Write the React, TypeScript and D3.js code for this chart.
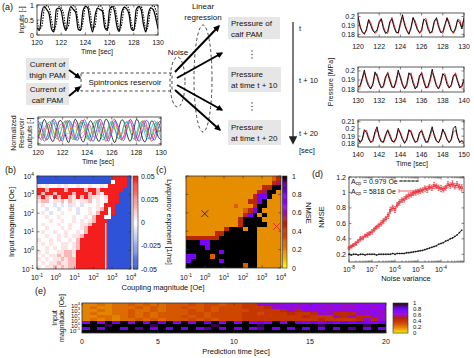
import React from "react";
import * as d3 from "d3";

const FONT = "'Liberation Sans', Arial, Helvetica, sans-serif";

/* ---------------- (a) input signals ---------------- */
const inputT0 = 120;
const inputDt = 0.2;
const inputSolid = [0.25,0.15,0.75,0.95,0.85,0.7,0.2,0.1,0.85,0.9,0.8,0.35,0.15,0.7,0.95,0.85,0.75,0.2,0.15,0.8,0.95,0.9,0.4,0.1,0.65,0.9,0.85,0.8,0.25,0.15,0.85,0.95,0.8,0.3,0.12,0.75,0.92,0.88,0.7,0.2,0.15,0.85,0.95,0.85,0.35,0.1,0.7,0.9,0.85,0.6,0.2];
const inputDotted = [0.5,0.2,0.3,0.85,0.98,0.9,0.5,0.15,0.4,0.95,0.9,0.7,0.2,0.3,0.85,0.98,0.9,0.45,0.15,0.45,0.95,0.95,0.75,0.2,0.3,0.9,0.98,0.9,0.5,0.15,0.5,0.95,0.95,0.6,0.15,0.35,0.9,0.98,0.85,0.4,0.15,0.5,0.95,0.95,0.65,0.15,0.35,0.9,0.98,0.85,0.45];
const timeTicksA = [120, 122, 124, 126, 128, 130];

/* ---------------- (a) reservoir outputs ---------------- */
const resT0 = 120;
const resDt = 0.25;
const resColors = ["#000000", "#e8202a", "#23a832", "#2040e0", "#e040d8", "#20b8e0", "#b8c020"];
const resSeries = [
  [0.2,0.6,0.95,0.7,0.25,0.1,0.55,0.9,0.8,0.3,0.05,0.5,0.95,0.75,0.2,0.1,0.6,0.9,0.7,0.25,0.1,0.55,0.95,0.8,0.3,0.05,0.45,0.9,0.85,0.35,0.1,0.5,0.95,0.75,0.2,0.1,0.6,0.9,0.7,0.3,0.15],
  [0.8,0.4,0.1,0.3,0.8,0.9,0.45,0.1,0.35,0.85,0.85,0.4,0.15,0.4,0.9,0.8,0.35,0.1,0.4,0.85,0.9,0.5,0.1,0.3,0.8,0.95,0.5,0.15,0.35,0.8,0.9,0.45,0.1,0.4,0.85,0.85,0.4,0.1,0.35,0.8,0.9],
  [0.4,0.15,0.3,0.75,0.85,0.5,0.2,0.3,0.7,0.9,0.55,0.2,0.25,0.7,0.85,0.6,0.2,0.3,0.75,0.9,0.5,0.15,0.3,0.7,0.85,0.55,0.2,0.3,0.75,0.85,0.5,0.2,0.25,0.7,0.9,0.55,0.2,0.3,0.75,0.85,0.5],
  [0.9,0.7,0.3,0.15,0.5,0.95,0.8,0.3,0.1,0.55,0.9,0.75,0.25,0.15,0.6,0.95,0.7,0.3,0.1,0.5,0.95,0.8,0.35,0.1,0.55,0.9,0.7,0.25,0.15,0.6,0.95,0.75,0.3,0.1,0.5,0.9,0.8,0.3,0.15,0.55,0.9],
  [0.3,0.2,0.55,0.8,0.6,0.25,0.3,0.7,0.75,0.4,0.2,0.6,0.85,0.55,0.25,0.35,0.75,0.7,0.3,0.25,0.65,0.8,0.5,0.2,0.4,0.8,0.7,0.3,0.25,0.6,0.85,0.55,0.2,0.35,0.75,0.7,0.35,0.2,0.6,0.8,0.5],
  [0.6,0.85,0.5,0.2,0.35,0.8,0.75,0.35,0.2,0.6,0.9,0.6,0.2,0.3,0.75,0.85,0.45,0.15,0.45,0.85,0.7,0.3,0.2,0.6,0.9,0.6,0.25,0.3,0.7,0.85,0.5,0.2,0.4,0.8,0.75,0.3,0.2,0.65,0.9,0.55,0.25],
  [0.5,0.35,0.45,0.65,0.6,0.4,0.45,0.6,0.65,0.45,0.4,0.55,0.7,0.5,0.4,0.5,0.65,0.6,0.4,0.45,0.6,0.65,0.45,0.4,0.55,0.7,0.5,0.35,0.5,0.65,0.6,0.4,0.45,0.6,0.7,0.5,0.4,0.5,0.65,0.55,0.45],
];

/* ---------------- (a) pressure predictions ---------------- */
const pressStarts = [120, 130, 140];
const pressDt = 0.2;
const pressTarget = [
  [0.199,0.190,0.182,0.181,0.184,0.197,0.193,0.186,0.181,0.183,0.195,0.198,0.189,0.182,0.181,0.192,0.199,0.191,0.183,0.181,0.190,0.199,0.193,0.185,0.181,0.186,0.198,0.195,0.187,0.181,0.183,0.196,0.198,0.189,0.182,0.182,0.193,0.199,0.191,0.183,0.181,0.189,0.199,0.194,0.185,0.181,0.185,0.197,0.196,0.188,0.199],
  [0.183,0.182,0.190,0.198,0.192,0.185,0.181,0.184,0.196,0.197,0.188,0.182,0.182,0.191,0.199,0.192,0.184,0.181,0.187,0.198,0.195,0.186,0.181,0.183,0.195,0.198,0.189,0.182,0.182,0.192,0.199,0.191,0.183,0.181,0.188,0.198,0.194,0.185,0.181,0.184,0.196,0.197,0.188,0.182,0.183,0.193,0.198,0.190,0.183,0.182,0.189],
  [0.186,0.182,0.184,0.196,0.198,0.189,0.182,0.182,0.193,0.199,0.191,0.183,0.181,0.189,0.199,0.193,0.185,0.181,0.186,0.198,0.196,0.187,0.181,0.184,0.196,0.198,0.189,0.182,0.182,0.193,0.199,0.191,0.183,0.181,0.190,0.199,0.193,0.184,0.181,0.186,0.198,0.195,0.186,0.181,0.184,0.196,0.198,0.189,0.182,0.183,0.180],
];
const pressPred = [
  [0.200,0.188,0.183,0.180,0.186,0.196,0.190,0.184,0.182,0.185,0.193,0.197,0.186,0.181,0.183,0.194,0.197,0.188,0.182,0.182,0.193,0.202,0.190,0.184,0.180,0.188,0.199,0.192,0.185,0.182,0.185,0.197,0.195,0.186,0.181,0.184,0.195,0.198,0.188,0.182,0.183,0.191,0.198,0.191,0.184,0.182,0.187,0.196,0.193,0.186,0.198],
  [0.182,0.184,0.192,0.201,0.189,0.183,0.180,0.186,0.199,0.194,0.186,0.181,0.184,0.194,0.197,0.189,0.182,0.182,0.190,0.201,0.192,0.184,0.180,0.186,0.198,0.195,0.186,0.180,0.184,0.195,0.197,0.188,0.181,0.183,0.191,0.202,0.191,0.183,0.180,0.187,0.197,0.194,0.185,0.181,0.185,0.195,0.196,0.188,0.181,0.184,0.191],
  [0.187,0.181,0.186,0.199,0.195,0.186,0.181,0.184,0.196,0.203,0.188,0.182,0.182,0.192,0.198,0.190,0.183,0.182,0.188,0.201,0.193,0.185,0.180,0.186,0.199,0.195,0.187,0.181,0.184,0.195,0.197,0.188,0.181,0.183,0.193,0.203,0.190,0.183,0.181,0.188,0.200,0.193,0.185,0.181,0.186,0.201,0.204,0.188,0.181,0.184,0.181],
];
const pressYTicks = [[0.18, 0.19, 0.2], [0.18, 0.19, 0.2], [0.18, 0.19, 0.2, 0.21]];
const pressYDomains = [[0.177, 0.2039], [0.1767, 0.2044], [0.1749, 0.2124]];

/* ---------------- (b) Lyapunov exponent map ---------------- */
const lyapunovGrid = [
  "BBBBBBBBBBBBBBBBBBBRRRRB",
  "BBBBBBBBBBBBBBBBBBBWRRRB",
  "pWpWWpWpWWpWWpWWpWRRRRRB",
  "RRlRRRRlRRRRlRRlRRRRRRBB",
  "RlRRlRRRRlRRRlRlpRRRRBBB",
  "lRlpRlRRlpRlRlppWpRRRBBB",
  "pllWpplWlpWpplWpWpRRRBBB",
  "WpWWcWcWcpWcWWWpWRRRBBBB",
  "WWcWWcWWpWcWWpWplRWRBBBB",
  "WpWcWWpWWWcWWpWlRRWRBBBB",
  "WWpWWpWWWpWWpWlRRWWBBBBB",
  "WWWpWWpWWpWpWplRRRBBBBBB",
  "WpWWWpWWpWWpplRRRRBBBBBB",
  "WWpWWWpWpWWplRRRRRBBBBBB",
  "WpWWpWWpWWpWlRRRRRBBBBBB",
  "WWpWWpWpWpplRRRRRRBBBBBB",
  "pWWpWpWWpWlRRRRRRRBBBBBB",
  "WpWpWWppWplRRRRRRRBBBBBB",
  "WWpWpWppWplRRRRRRRBBBBBB",
  "pWpWWppllpRRRRRRRRBBBBBB",
  "WpWpplpllpRRRRRRRRBBBBBB",
  "pWpWpplpllRRRRRRRRBBBBBB",
  "WpWpplppllRRRRRRRRBBBBBB",
  "pWpplplpllRRRRRRRRBBBBBB",
];
const lyapunovCodes: Record<string, number> = { B: -0.05, b: -0.03, c: -0.008, W: 0, p: 0.006, l: 0.016, R: 0.05 };
const lyapunovBoundary = { coupling: 450, inputFrom: 0.1, inputTo: 30 };
const lyapunovTicks = [0.05, 0.025, 0, -0.025, -0.05];

/* ---------------- (c) NMSE map ---------------- */
const nmseGrid = [
  "ooooooooooooooooooqr",
  "oooooooooooooooooorm",
  "oooooooooooooooorrkk",
  "ooooooooooooooormkko",
  "oooooooooooooorbbkoo",
  "ooooooooooooorrbkooo",
  "ooooooooooqooorkkooo",
  "ooooooooooooqrbkoooo",
  "oooooooooooorbkokooo",
  "ooooooooooorkkkkoooo",
  "ooooooooooorkkkkkooo",
  "oooooooorkkkokkooooo",
  "oooooorrkkkkkkkooooo",
  "rrrrrrrkkkkkkkkooooo",
  "kkkbbkkkkkkkkkkooooo",
  "kkkkbkkkkkkkkkkooooo",
  "kkkkkkkbkkkkkkkooooo",
  "bbkkkqkkkkkkkkkooooo",
  "bkkkkkkbkkkkkkkooooo",
  "kkkkkkkkkkkkqkkooooo",
];
const nmseCodes: Record<string, number> = { o: 0.18, q: 0.28, r: 0.46, m: 0.56, b: 0.78, k: 1.0 };
const crossBlack = { coupling: 0.979, input: 90 };
const crossRed = { coupling: 5818, input: 18 };
const logExps = [-1, 0, 1, 2, 3, 4];
const nmseTicks = [1, 0.8, 0.6, 0.4, 0.2, 0];

/* ---------------- (d) NMSE vs noise ---------------- */
const noiseExpStart = -8;
const noiseExpStep = 0.1;
const nmseLowCoupling = [0.20,0.19,0.20,0.20,0.19,0.20,0.20,0.19,0.20,0.20,0.20,0.20,0.19,0.20,0.20,0.20,0.20,0.20,0.20,0.21,0.20,0.21,0.21,0.21,0.21,0.22,0.22,0.225,0.23,0.235,0.24,0.245,0.25,0.26,0.27,0.28,0.29,0.30,0.31,0.33,0.34,0.35,0.37,0.38,0.40,0.41,0.43,0.45,0.48,0.51];
const nmseHighCoupling = [0.28,0.30,0.32,0.34,0.37,0.40,0.41,0.44,0.45,0.47,0.49,0.52,0.55,0.57,0.60,0.63,0.66,0.70,0.77,0.80,0.78,0.84,0.87,0.90,0.91,0.94,0.96,0.97,0.99,1.00,1.01,1.02,1.03,1.05,1.04,1.07,1.06,1.09,1.08,1.06,1.05,1.04,1.06,1.10,1.09,1.11,1.08,1.10,1.07,1.06];
const nmseHighErr = [0.02,0.02,0.02,0.025,0.02,0.03,0.025,0.02,0.03,0.025,0.03,0.03,0.025,0.03,0.035,0.03,0.03,0.035,0.04,0.035,0.04,0.03,0.035,0.03,0.035,0.03,0.035,0.03,0.03,0.035,0.03,0.035,0.03,0.035,0.04,0.03,0.035,0.04,0.03,0.035,0.04,0.035,0.03,0.04,0.035,0.04,0.035,0.04,0.035,0.04];
const dYTicks = [0.2, 0.4, 0.6, 0.8, 1, 1.2];
const dXExps = [-8, -7, -6, -5, -4];

/* ---------------- (e) NMSE vs prediction time ---------------- */
const predGrid = [
  "eefef" + "fgfgffg" + "gghghhgh" + "hiin" + "onnonnoononnonoo",
  "efeef" + "ffgfgfg" + "ghgghghh" + "hiii" + "jnonnoonnonnoono",
  "eefef" + "fgffgfg" + "gghghghh" + "hhii" + "iijnjnnonnnonnon",
  "efeef" + "fgfgfgg" + "gghhghhh" + "hiih" + "iiijiij" + "nnjjjnnon",
  "eeffe" + "fgfgfgg" + "ghghghhh" + "hiii" + "iiiiijiii" + "njnjjnn",
  "efefe" + "ffgfgfg" + "gghghghh" + "hiii" + "iiiiiiijiiii" + "jnjn",
  "pupuqupupu" + "qupupuqupu" + "pupqpupuqp" + "qpqpqpqqpq",
  "uuutuuuuut" + "uuuuuuutuu" + "uuutuuuuuu" + "utuuuuutuu",
  "ququuqusuq" + "uququqsuqu" + "quqsuququq" + "uququsuquq",
  "uuuuuuuuuu" + "uuuuuuuuuu" + "uuuuuuuuuu" + "uuuuuuuuuu",
];
const predTimeTicks = [0, 5, 10, 15, 20];
const predCbarTicks = [1, 0.8, 0.6, 0.4, 0.2, 0];

/* ---------------- helpers ---------------- */
function gnuColor(v: number) {
  const x = 1 - Math.max(0, Math.min(1, v));
  const r = Math.sqrt(x), g = x * x * x, b = Math.max(0, Math.sin(2 * Math.PI * x));
  return d3.rgb(Math.round(r * 255), Math.round(g * 255), Math.round(b * 255)).formatHex();
}
const lyapColor = d3.scaleLinear<string>().domain([-0.05, 0, 0.05]).range(["#2e52d8", "#ffffff", "#f41e1e"]).clamp(true);
const charVal = (c: string) => (c.charCodeAt(0) - 97) * 0.05;

const AX = "#333";

function Frame({ x0, y0, x1, y1 }: any) {
  return <rect x={x0} y={y0} width={x1 - x0} height={y1 - y0} fill="none" stroke={AX} strokeWidth={0.8} />;
}
function XTicks({ xs, y0, y1, len = 2.5, mirror = true }: any) {
  return (
    <g stroke={AX} strokeWidth={0.6}>
      {xs.map((x: number, i: number) => (
        <g key={i}>
          <line x1={x} x2={x} y1={y1} y2={y1 - len} />
          {mirror && <line x1={x} x2={x} y1={y0} y2={y0 + len} />}
        </g>
      ))}
    </g>
  );
}
function YTicks({ ys, x0, x1, len = 2.5, mirror = true }: any) {
  return (
    <g stroke={AX} strokeWidth={0.6}>
      {ys.map((y: number, i: number) => (
        <g key={i}>
          <line x1={x0} x2={x0 + len} y1={y} y2={y} />
          {mirror && <line x1={x1} x2={x1 - len} y1={y} y2={y} />}
        </g>
      ))}
    </g>
  );
}
function P10({ x, y, e, anchor = "middle", fs = 7 }: any) {
  return (
    <text x={x} y={y} textAnchor={anchor} fontSize={fs}>
      10<tspan dy={-fs * 0.4} fontSize={fs * 0.7}>{e}</tspan>
    </text>
  );
}
function Box({ x, y, w, h, lines, tx, fs = 8 }: any) {
  return (
    <g>
      <rect x={x} y={y} width={w} height={h} fill="#e6e6e6" />
      {lines.map((l: string, i: number) => (
        <text key={i} x={tx} y={y + h / 2 + (i - (lines.length - 1) / 2) * 11 + 3} fontSize={fs} textAnchor={tx === x + w / 2 ? "middle" : "start"}>{l}</text>
      ))}
    </g>
  );
}

function Heat({ grid, x0, x1, y0, y1, color }: any) {
  const nR = grid.length;
  const nC = d3.max(grid, (r: string[]) => r.length) as number;
  const cx = d3.scaleBand<number>().domain(d3.range(nC)).range([x0, x1]);
  const cy = d3.scaleBand<number>().domain(d3.range(nR)).range([y0, y1]);
  return (
    <g shapeRendering="crispEdges">
      {grid.map((row: string[], r: number) =>
        row.map((c: string, k: number) => (
          <rect key={r + "-" + k} x={cx(k)} y={cy(r)} width={cx.bandwidth() + 0.4} height={cy.bandwidth() + 0.4} fill={color(c)} />
        ))
      )}
    </g>
  );
}

function Colorbar({ x0, x1, y0, y1, color, vmin, vmax }: any) {
  const s = d3.scaleLinear().domain([vmin, vmax]).range([y1, y0]);
  const steps = d3.range(0, 100);
  const hh = (y1 - y0) / 100;
  return (
    <g>
      {steps.map((i) => {
        const v = vmin + ((i + 0.5) / 100) * (vmax - vmin);
        return <rect key={i} x={x0} y={s(v) - hh / 2} width={x1 - x0} height={hh + 0.4} fill={color(v)} />;
      })}
      <rect x={x0} y={y0} width={x1 - x0} height={y1 - y0} fill="none" stroke={AX} strokeWidth={0.6} />
    </g>
  );
}

export default function App() {
  /* ---- (a) inputs ---- */
  const aX = d3.scaleLinear().domain([120, 130]).range([37, 158]);
  const aY = d3.scaleLinear().domain([0, 1]).range([35, 5]);
  const inLine = d3.line<number>().x((_, i) => aX(inputT0 + i * inputDt)).y((d) => aY(d)).curve(d3.curveMonotoneX);

  /* ---- reservoir ---- */
  const rX = d3.scaleLinear().domain([120, 130]).range([38, 161]);
  const rY = d3.scaleLinear().domain([-0.05, 1.05]).range([145, 117]);
  const resLine = d3.line<number>().x((_, i) => rX(resT0 + i * resDt)).y((d) => rY(d)).curve(d3.curveCardinal);

  /* ---- pressure panels ---- */
  const pFrames = [[13, 37], [67, 92], [120, 147]];
  const pLabelY = [48.5, 102.5, 156.5];

  /* ---- (b) ---- */
  const bX = d3.scaleLog().domain([0.1, 1e4]).range([37, 131]);
  const bY = d3.scaleLog().domain([0.1, 1e4]).range([269, 176]);
  /* ---- (c) ---- */
  const cX = d3.scaleLog().domain([0.1, 1e4]).range([186, 281]);
  const cY = d3.scaleLog().domain([0.1, 1e4]).range([268, 176]);
  /* ---- (d) ---- */
  const dX = d3.scaleLog().domain([1e-8, 1e-3]).range([349, 464]);
  const dY = d3.scaleLinear().domain([0.1, 1.2]).range([262, 177]);
  const noiseAt = (i: number) => Math.pow(10, noiseExpStart + i * noiseExpStep);
  const dLine = d3.line<number>().x((_, i) => dX(noiseAt(i))).y((d) => dY(d));
  const minorD: number[] = [];
  dXExps.forEach((e) => { for (let m = 2; m <= 9; m++) minorD.push(m * Math.pow(10, e)); });
  /* ---- (e) ---- */
  const eX = d3.scaleLinear().domain([0, 20]).range([82, 386]);
  const eRows = d3.scaleBand<number>().domain(d3.range(6)).range([303, 333]);

  const cross = (x: number, y: number, col: string, k: string) => (
    <g key={k} stroke={col} strokeWidth={0.9}>
      <line x1={x - 3.5} x2={x + 3.5} y1={y - 3.5} y2={y + 3.5} />
      <line x1={x - 3.5} x2={x + 3.5} y1={y + 3.5} y2={y - 3.5} />
    </g>
  );

  return (
    <svg width={474} height={358} style={{ position: "absolute", left: 0, top: 0, background: "#fff" }} fontFamily={FONT} fill="#111">
      <defs>
        <marker id="arr" viewBox="0 0 10 10" refX="8" refY="5" markerWidth="3.2" markerHeight="3.2" orient="auto">
          <path d="M0,0 L10,5 L0,10 z" fill="#000" />
        </marker>
        <marker id="arrT" viewBox="0 0 10 10" refX="8" refY="5" markerWidth="7" markerHeight="7" orient="auto">
          <path d="M0,0 L10,5 L0,10 z" fill="#222" />
        </marker>
        <clipPath id="clipIn"><rect x={37} y={5} width={121} height={30} /></clipPath>
        <clipPath id="clipRes"><rect x={38} y={117} width={123} height={28} /></clipPath>
        {pFrames.map((f, i) => (
          <clipPath key={i} id={"clipP" + i}><rect x={358} y={f[0]} width={106} height={f[1] - f[0]} /></clipPath>
        ))}
      </defs>

      {/* ============ (a) ============ */}
      <text x={2} y={10} fontSize={9}>(a)</text>
      <g clipPath="url(#clipIn)">
        <path d={inLine(inputDotted) || ""} fill="none" stroke="#000" strokeWidth={1.1} strokeDasharray="1.4,1.2" />
        <path d={inLine(inputSolid) || ""} fill="none" stroke="#000" strokeWidth={1.2} />
      </g>
      <Frame x0={37} y0={5} x1={158} y1={35} />
      <XTicks xs={timeTicksA.map((t) => aX(t))} y0={5} y1={35} />
      <YTicks ys={[0, 0.5, 1].map((v) => aY(v))} x0={37} x1={158} />
      {[0, 0.5, 1].map((v) => (
        <text key={v} x={34} y={aY(v) + 2.5} fontSize={7} textAnchor="end">{v}</text>
      ))}
      {timeTicksA.map((t) => (
        <text key={t} x={aX(t)} y={45} fontSize={7} textAnchor="middle">{t}</text>
      ))}
      <text x={97} y={54} fontSize={7} textAnchor="middle">Time [sec]</text>
      <text transform="translate(24,20) rotate(-90)" fontSize={7} textAnchor="middle">Inputs [-]</text>

      <Box x={26} y={58} w={43} h={22} lines={["Current of", "thigh PAM"]} tx={47.5} />
      <Box x={26} y={83} w={43} h={22} lines={["Current of", "calf PAM"]} tx={47.5} />
      <line x1={69} y1={70} x2={80} y2={78} stroke="#000" strokeWidth={2} markerEnd="url(#arr)" />
      <line x1={69} y1={96} x2={80} y2={87} stroke="#000" strokeWidth={2} markerEnd="url(#arr)" />
      <rect x={81} y={73} width={91} height={18} fill="none" stroke="#333" strokeWidth={0.9} strokeDasharray="3,2.5" />
      <text x={125} y={85} fontSize={8} textAnchor="middle">Spintronics reservoir</text>

      <g clipPath="url(#clipRes)">
        {resSeries.map((s, i) => (
          <path key={i} d={resLine(s) || ""} fill="none" stroke={resColors[i]} strokeWidth={0.8} />
        ))}
      </g>
      <Frame x0={38} y0={117} x1={161} y1={145} />
      <XTicks xs={timeTicksA.map((t) => rX(t))} y0={117} y1={145} />
      <YTicks ys={[0, 0.5, 1].map((v) => rY(v))} x0={38} x1={161} />
      {timeTicksA.map((t) => (
        <text key={t} x={rX(t)} y={154.5} fontSize={7} textAnchor="middle">{t}</text>
      ))}
      <text x={98} y={164} fontSize={7} textAnchor="middle">Time [sec]</text>
      <g fontSize={7} textAnchor="middle">
        <text transform="translate(16,133) rotate(-90)">Normalized</text>
        <text transform="translate(24,133) rotate(-90)">Reservoir</text>
        <text transform="translate(32,133) rotate(-90)">outputs [-]</text>
      </g>

      <text x={178} y={55} fontSize={8} textAnchor="middle">Noise</text>
      <ellipse cx={177.5} cy={82} rx={7.5} ry={25} fill="none" stroke="#333" strokeWidth={0.9} strokeDasharray="3,2.5" />
      <text x={203} y={9} fontSize={8} textAnchor="middle">Linear</text>
      <text x={203} y={19.5} fontSize={8} textAnchor="middle">regression</text>
      <ellipse cx={203} cy={78.5} rx={9} ry={53.5} fill="none" stroke="#333" strokeWidth={0.9} strokeDasharray="3,2.5" />
      <g stroke="#000" strokeWidth={2}>
        <line x1={175} y1={72} x2={219} y2={26} markerEnd="url(#arr)" />
        <line x1={177} y1={78} x2={222} y2={53} markerEnd="url(#arr)" />
        <line x1={177} y1={85} x2={222} y2={110} markerEnd="url(#arr)" />
        <line x1={175} y1={90} x2={220} y2={130} markerEnd="url(#arr)" />
      </g>

      <Box x={228} y={17} w={52} h={22} lines={["Pressure of", "calf PAM"]} tx={231} />
      <Box x={228} y={67} w={53} h={25} lines={["Pressure", "at time t + 10"]} tx={231} />
      <Box x={228} y={120} w={53} h={25} lines={["Pressure", "at time t + 20"]} tx={231} />
      {[51, 54.5, 58, 103, 106.5, 110].map((y, i) => (
        <circle key={i} cx={252} cy={y} r={0.7} fill="#333" />
      ))}

      <line x1={293} y1={22} x2={293} y2={143} stroke="#222" strokeWidth={1.2} markerEnd="url(#arrT)" />
      <g fontSize={7.5}>
        <text x={299} y={31}>t</text>
        <text x={299} y={83}>t + 10</text>
        <text x={299} y={136}>t + 20</text>
        <text x={299} y={153}>[sec]</text>
      </g>

      {pFrames.map((f, i) => {
        const px = d3.scaleLinear().domain([pressStarts[i], pressStarts[i] + 10]).range([358, 464]);
        const py = d3.scaleLinear().domain(pressYDomains[i]).range([f[1], f[0]]);
        const ln = d3.line<number>().x((_, k) => px(pressStarts[i] + k * pressDt)).y((d) => py(d));
        const xt = d3.range(pressStarts[i], pressStarts[i] + 10.01, 2);
        return (
          <g key={i}>
            <g clipPath={`url(#clipP${i})`}>
              <path d={ln(pressTarget[i]) || ""} fill="none" stroke="#e8202a" strokeWidth={0.9} />
              <path d={ln(pressPred[i]) || ""} fill="none" stroke="#000" strokeWidth={0.9} />
            </g>
            <Frame x0={358} y0={f[0]} x1={464} y1={f[1]} />
            <XTicks xs={xt.map((t) => px(t))} y0={f[0]} y1={f[1]} />
            <YTicks ys={pressYTicks[i].map((v) => py(v))} x0={358} x1={464} />
            {pressYTicks[i].map((v) => (
              <text key={v} x={355} y={py(v) + 2.5} fontSize={7} textAnchor="end">{v}</text>
            ))}
            {xt.map((t) => (
              <text key={t} x={px(t)} y={pLabelY[i]} fontSize={7} textAnchor="middle">{t}</text>
            ))}
          </g>
        );
      })}
      <text x={412} y={166} fontSize={7} textAnchor="middle">Time [sec]</text>
      <text transform="translate(333,82) rotate(-90)" fontSize={7} textAnchor="middle">Pressure [MPa]</text>

      {/* ============ (b) ============ */}
      <text x={5} y={173} fontSize={9}>(b)</text>
      <Heat grid={lyapunovGrid.map((r) => r.split(""))} x0={37} x1={131} y0={176} y1={269} color={(c: string) => lyapColor(lyapunovCodes[c])} />
      <line x1={bX(lyapunovBoundary.coupling)} x2={bX(lyapunovBoundary.coupling)} y1={bY(lyapunovBoundary.inputFrom)} y2={bY(lyapunovBoundary.inputTo)} stroke="#fff" strokeWidth={1.2} />
      <Frame x0={37} y0={176} x1={131} y1={269} />
      <XTicks xs={logExps.map((e) => bX(Math.pow(10, e)))} y0={176} y1={269} />
      <YTicks ys={logExps.map((e) => bY(Math.pow(10, e)))} x0={37} x1={131} />
      {logExps.map((e) => <P10 key={"bx" + e} x={bX(Math.pow(10, e))} y={280} e={e} />)}
      {logExps.map((e) => <P10 key={"by" + e} x={34} y={bY(Math.pow(10, e)) + 2.5} e={e} anchor="end" />)}
      <text transform="translate(14,222) rotate(-90)" fontSize={7.5} textAnchor="middle">Input magnitude [Oe]</text>
      <Colorbar x0={133} x1={138} y0={176} y1={269} color={lyapColor} vmin={-0.05} vmax={0.05} />
      {lyapunovTicks.map((v) => (
        <text key={v} x={141} y={176 + ((0.05 - v) / 0.1) * 93 + 2.5} fontSize={7}>{v}</text>
      ))}
      <text transform="translate(167,222) rotate(90)" fontSize={7.5} textAnchor="middle">Lyapunov exponent [1/ns]</text>
      <text x={163} y={290} fontSize={7.5} textAnchor="middle">Coupling magnitude [Oe]</text>

      {/* ============ (c) ============ */}
      <text x={156} y={173} fontSize={9}>(c)</text>
      <Heat grid={nmseGrid.map((r) => r.split(""))} x0={186} x1={281} y0={176} y1={268} color={(c: string) => gnuColor(nmseCodes[c])} />
      {cross(cX(crossBlack.coupling), cY(crossBlack.input), "#222", "cb")}
      {cross(cX(crossRed.coupling), cY(crossRed.input), "#e8202a", "cr")}
      <Frame x0={186} y0={176} x1={281} y1={268} />
      <XTicks xs={logExps.map((e) => cX(Math.pow(10, e)))} y0={176} y1={268} />
      <YTicks ys={logExps.map((e) => cY(Math.pow(10, e)))} x0={186} x1={281} />
      {logExps.map((e) => <P10 key={"cx" + e} x={cX(Math.pow(10, e))} y={280} e={e} />)}
      <Colorbar x0={282.5} x1={287} y0={176} y1={268} color={gnuColor} vmin={0} vmax={1} />
      {nmseTicks.map((v) => (
        <text key={v} x={292} y={268 - v * 92 + 2.5} fontSize={7}>{v}</text>
      ))}
      <text transform="translate(306,213) rotate(90)" fontSize={7.5} textAnchor="middle">NMSE</text>

      {/* ============ (d) ============ */}
      <text x={312} y={177} fontSize={9}>(d)</text>
      <Frame x0={349} y0={177} x1={464} y1={262} />
      <XTicks xs={dXExps.map((e) => dX(Math.pow(10, e)))} y0={177} y1={262} />
      <XTicks xs={minorD.map((v) => dX(v))} y0={177} y1={262} len={1.5} />
      <YTicks ys={dYTicks.map((v) => dY(v))} x0={349} x1={464} />
      {dYTicks.map((v) => (
        <text key={v} x={346} y={dY(v) + 2.5} fontSize={7} textAnchor="end">{v}</text>
      ))}
      {dXExps.map((e) => <P10 key={"dx" + e} x={dX(Math.pow(10, e))} y={272} e={e} />)}
      <text x={406} y={281} fontSize={7.5} textAnchor="middle">Noise variance</text>
      <text transform="translate(324,217) rotate(-90)" fontSize={7.5} textAnchor="middle">NMSE</text>
      <path d={dLine(nmseLowCoupling) || ""} fill="none" stroke="#000" strokeWidth={0.7} />
      {nmseLowCoupling.map((v, i) => (
        <g key={"lb" + i} stroke="#000" strokeWidth={0.6}>
          <line x1={dX(noiseAt(i)) - 1} x2={dX(noiseAt(i)) + 1} y1={dY(v)} y2={dY(v)} />
          <line x1={dX(noiseAt(i))} x2={dX(noiseAt(i))} y1={dY(v) - 1} y2={dY(v) + 1} />
        </g>
      ))}
      <path d={dLine(nmseHighCoupling) || ""} fill="none" stroke="#e8202a" strokeWidth={0.7} />
      {nmseHighCoupling.map((v, i) => {
        const x = dX(noiseAt(i));
        const e = nmseHighErr[i];
        return (
          <g key={"lr" + i} stroke="#e8202a" strokeWidth={0.6} fill="none">
            <line x1={x} x2={x} y1={dY(v + e)} y2={dY(v - e)} />
            <line x1={x - 1} x2={x + 1} y1={dY(v + e)} y2={dY(v + e)} />
            <line x1={x - 1} x2={x + 1} y1={dY(v - e)} y2={dY(v - e)} />
            <rect x={x - 1} y={dY(v) - 1} width={2} height={2} />
          </g>
        );
      })}
      <text x={351} y={183.5} fontSize={7}>A<tspan dy={1.8} fontSize={5}>cp</tspan><tspan dy={-1.8}> = 0.979 Oe</tspan></text>
      <line x1={399} x2={419} y1={181} y2={181} stroke="#000" strokeWidth={0.7} />
      {[401, 405, 409, 413, 417].map((x) => (
        <line key={x} x1={x} x2={x} y1={180} y2={182} stroke="#000" strokeWidth={0.6} />
      ))}
      <text x={351} y={193.5} fontSize={7}>A<tspan dy={1.8} fontSize={5}>cp</tspan><tspan dy={-1.8}> = 5818 Oe</tspan></text>
      <line x1={399} x2={419} y1={191} y2={191} stroke="#e8202a" strokeWidth={0.7} />
      <line x1={399} x2={399} y1={189} y2={193} stroke="#e8202a" strokeWidth={0.6} />
      <line x1={419} x2={419} y1={189} y2={193} stroke="#e8202a" strokeWidth={0.6} />

      {/* ============ (e) ============ */}
      <text x={35} y={294} fontSize={9}>(e)</text>
      <Heat grid={predGrid.map((r) => r.split(""))} x0={82} x1={386} y0={303} y1={333} color={(c: string) => gnuColor(charVal(c))} />
      <Frame x0={82} y0={303} x1={386} y1={333} />
      <XTicks xs={predTimeTicks.map((t) => eX(t))} y0={303} y1={333} />
      {predTimeTicks.map((t) => (
        <text key={t} x={eX(t)} y={344} fontSize={7} textAnchor="middle">{t}</text>
      ))}
      <text x={236} y={354} fontSize={7.5} textAnchor="middle">Prediction time [sec]</text>
      {[4, 3, 2, 1, 0, -1].map((e, i) => (
        <P10 key={"ey" + e} x={80} y={(eRows(i) as number) + eRows.bandwidth() / 2 + 2} e={e} anchor="end" fs={6} />
      ))}
      <text transform="translate(57,318) rotate(-90)" fontSize={7} textAnchor="middle">Input</text>
      <text transform="translate(64,318) rotate(-90)" fontSize={7} textAnchor="middle">magnitude [Oe]</text>
      <Colorbar x0={393} x1={408} y0={303} y1={333} color={gnuColor} vmin={0} vmax={1} />
      {predCbarTicks.map((v) => (
        <text key={v} x={413} y={333 - v * 30 + 2} fontSize={6}>{v}</text>
      ))}
    </svg>
  );
}
